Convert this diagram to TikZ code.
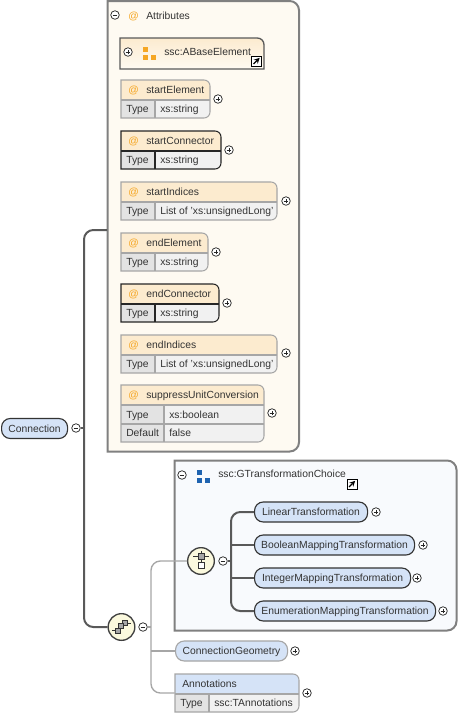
\documentclass[tikz,border=0pt]{standalone}
\usepackage{fontspec}
\setmainfont{Liberation Sans}
\usetikzlibrary{calc,fit}
\definecolor{attrfill}{HTML}{FEFAF2}
\definecolor{attrhead}{HTML}{FCEBCF}
\definecolor{grpfill}{HTML}{F8FAFD}
\definecolor{elemfill}{HTML}{D5E3F7}
\definecolor{rowkey}{HTML}{E3E3E3}
\definecolor{rowval}{HTML}{F1F1F1}
\definecolor{iconor}{HTML}{F5A623}
\definecolor{iconbl}{HTML}{1F63B0}
\definecolor{circfill}{HTML}{FBF9DE}
\definecolor{txt}{HTML}{333333}
% one framed table: name, x1, x2, y top, y bottom, frame colour, head colour
\newcommand{\tblframe}[7]{
  \path[fill=rowval] (#2,#4) [rounded corners=4.5pt] -- (#3,#4) -- (#3,#5) [sharp corners] -- (#2,#5) -- cycle;
  \path[fill=#7] (#2,#4) [rounded corners=4.5pt] -- (#3,#4) [sharp corners] -- (#3,#4+20) -- (#2,#4+20) -- cycle;
  \path (#2,#4) coordinate (#1-nw) (#3,#5) coordinate (#1-se);
  \node[inner sep=0pt, fit=(#1-nw)(#1-se)] (#1) {};
}
% outline of the same table, drawn over its rows
\newcommand{\tbloutline}[5]{
  \draw[#5, line width=.8pt] (#1,#3) [rounded corners=4.5pt] -- (#2,#3) -- (#2,#4) [sharp corners] -- (#1,#4) -- cycle;
  \draw[#5, line width=.8pt] (#1,#3+20) -- (#2,#3+20);
}
% one row: x1, column x, x2, y top, y bottom, frame colour, key, value
\newcommand{\tblrow}[8]{
  \fill[rowkey] (#1,#4) rectangle (#2,#5);
  \draw[#6, line width=.8pt] (#2,#4) -- (#2,#5);
  \node[lbl, anchor=west] at (#1+5,{(#4)/2+(#5)/2}) {#7};
  \node[lbl, anchor=west] at (#2+5,{(#4)/2+(#5)/2}) {#8};
}
% the usual attribute: name, x2, y top, column x, frame colour, title, type
\newcommand{\attrbox}[7]{
  \tblframe{#1}{121}{#2}{#3}{#3+38}{#5}{attrhead}
  \tblrow{121}{#4}{#2}{#3+20}{#3+38}{#5}{Type}{#7}
  \tbloutline{121}{#2}{#3}{#3+38}{#5}
  \node[lbl, anchor=west] at (128,#3+10) {\makebox[13.5pt][l]{\color{iconor}@}#6};
}
\newcommand{\squaresicon}[3]{
  \foreach \dx/\dy in {0/0, 0/8, 8/8} \fill[#3] (#1+\dx,#2+\dy) rectangle ++(5,5);
}
\begin{document}
\begin{tikzpicture}[x=.75pt, y=-.75pt,
    every node/.style={font=\fontsize{7.75}{9.5}\selectfont, text=txt},
    lbl/.style={inner sep=0pt, text height=6.8pt, text depth=1.2pt},
    elem/.style={draw=#1, line width=.85pt, fill=elemfill, rounded corners=6.5pt, minimum height=15pt, inner sep=0pt, text height=6.8pt, text depth=1.2pt, anchor=west},
    elem/.default={black!80},
    btn/.style={circle, draw=black!85, fill=white, line width=.55pt, inner sep=0pt, minimum size=6.4pt},
    plusbtn/.style={btn, path picture={
        \draw[black!85, line width=.55pt] ([xshift=-1.7pt]path picture bounding box.center) -- ([xshift=1.7pt]path picture bounding box.center);
        \draw[black!85, line width=.55pt] ([yshift=-1.7pt]path picture bounding box.center) -- ([yshift=1.7pt]path picture bounding box.center);}},
    minusbtn/.style={btn, path picture={
        \draw[black!85, line width=.55pt] ([xshift=-1.7pt]path picture bounding box.center) -- ([xshift=1.7pt]path picture bounding box.center);}},
    linkbtn/.style={draw=black, fill=white, line width=.7pt, inner sep=0pt, minimum size=7.5pt, path picture={
        \draw[->, >=stealth, line width=.9pt] ([shift={(-2.2pt,-2.2pt)}]path picture bounding box.center) -- ([shift={(2.4pt,2.4pt)}]path picture bounding box.center);}},
    compo/.style={circle, draw=black!75, fill=circfill, line width=1pt, inner sep=0pt, minimum size=20pt},
    conn/.style={draw=black!65, line width=1.5pt, rounded corners=7pt},
    lightconn/.style={draw=black!35, line width=1pt, rounded corners=7pt},
    sqr/.style={draw=black!80, fill=black!35, line width=.5pt},
    sqw/.style={draw=black!80, fill=white, line width=.5pt},
]
\useasboundingbox (0,0) rectangle (474,718);
\fill[white] (0,0) rectangle (474,718);
% === Attributes ===
\draw[black!50, line width=1.5pt, fill=attrfill] (107.5,1) [rounded corners=7pt] -- (299,1) -- (299,451.5) [sharp corners] -- (107.5,451.5) -- cycle;
\node[minusbtn] (attrminus) at (115,15) {};
\node[lbl, anchor=west] (attrtitle) at (128,16) {\makebox[13.5pt][l]{\color{iconor}@}Attributes};
\shade[left color=attrfill, middle color=black!40, right color=attrfill] (112,27.5) rectangle (252,29);
% Base element
\draw[black!65, line width=1pt, top color=attrhead, bottom color=attrfill] (120,38) [rounded corners=5pt] -- (264,38) [sharp corners] -- (264,69) -- (120,69) -- cycle;
\node[plusbtn] (baseplus) at (128,52) {};
\squaresicon{143}{47}{iconor}
\node[lbl, anchor=west] (basetitle) at (164,52) {ssc:ABaseElement};
\node[linkbtn] (baselink) at (256.5,61) {};
% Attribute tables
\attrbox{startelem}{210}{80}{155}{black!35}{startElement}{xs:string}
\node[plusbtn] (startelemplus) at (218,99) {};
\attrbox{startconn}{221}{131}{155}{black!85}{startConnector}{xs:string}
\node[plusbtn] (startconnplus) at (229,150) {};
\attrbox{startind}{277}{182}{155}{black!35}{startIndices}{List of 'xs:unsignedLong'}
\node[plusbtn] (startindplus) at (286,201) {};
\attrbox{endelem}{208}{233}{155}{black!35}{endElement}{xs:string}
\node[plusbtn] (endelemplus) at (216,252) {};
\attrbox{endconn}{219}{284}{155}{black!85}{endConnector}{xs:string}
\node[plusbtn] (endconnplus) at (227,303) {};
\attrbox{endind}{277}{335}{155}{black!35}{endIndices}{List of 'xs:unsignedLong'}
\node[plusbtn] (endindplus) at (286,353) {};
\tblframe{suppress}{121}{264}{385}{442}{black!35}{attrhead}
\tblrow{121}{164}{264}{405}{424}{black!35}{Type}{xs:boolean}
\tblrow{121}{164}{264}{424}{442}{black!35}{Default}{false}
\tbloutline{121}{264}{385}{442}{black!35}
\draw[black!35, line width=.8pt] (121,424) -- (264,424);
\node[lbl, anchor=west] (suppresstitle) at (128,395) {\makebox[13.5pt][l]{\color{iconor}@}suppressUnitConversion};
\node[plusbtn] (suppressplus) at (272,413) {};
% === Group box ===
\draw[black!50, line width=1.5pt, fill=grpfill] (174.5,460.5) [rounded corners=7pt] -- (456.5,460.5) -- (456.5,630.5) [sharp corners] -- (174.5,630.5) -- cycle;
\node[minusbtn] (grpminus) at (182,475) {};
\squaresicon{197}{470}{iconbl}
\node[lbl, anchor=west] (grptitle) at (218,474) {ssc:GTransformationChoice};
\node[linkbtn] (grplink) at (352,484) {};
\shade[left color=grpfill, middle color=black!40, right color=grpfill] (178,491.5) rectangle (385,493);
% === Elements ===
\node[elem, minimum width=49.5pt] (connection) at (1,428.5) {Connection};
\node[minusbtn] (connminus) at (76,428) {};
\node[elem, minimum width=84.75pt] (linear) at (254,512) {LinearTransformation};
\node[plusbtn] (linearplus) at (376,512) {};
\node[elem, minimum width=120pt] (boolmap) at (254,545) {BooleanMappingTransformation};
\node[plusbtn] (boolmapplus) at (423,545) {};
\node[elem, minimum width=117pt] (intmap) at (254,578) {IntegerMappingTransformation};
\node[plusbtn] (intmapplus) at (417,578) {};
\node[elem, minimum width=135.75pt] (enummap) at (254,611) {EnumerationMappingTransformation};
\node[plusbtn] (enummapplus) at (443,611) {};
\node[elem=black!35, minimum width=84pt] (geometry) at (175,651) {ConnectionGeometry};
\node[plusbtn] (geometryplus) at (295,651) {};
\tblframe{annot}{175}{299}{674}{712}{black!35}{elemfill}
\tblrow{175}{209}{299}{694}{712}{black!35}{Type}{ssc:TAnnotations}
\tbloutline{175}{299}{674}{712}{black!35}
\node[lbl, anchor=west] (annottitle) at (182,684) {Annotations};
\node[plusbtn] (annotplus) at (307,693) {};
% === Compositors ===
\node[compo] (seq) at (121.5,627) {};
\node[minusbtn] (seqminus) at (143,627) {};
\node[compo] (choice) at (201,561) {};
\node[minusbtn] (choiceminus) at (223,561) {};
% Sequence icon
\draw[black!80, line width=.6pt] (112,630.5) -- (116,630.5) (126,623) -- (131,623);
\draw[sqr] (122,620) rectangle ++(5,5);
\draw[sqr] (118.5,623.5) rectangle ++(5,5);
\draw[sqr] (115,628) rectangle ++(5.5,5.5);
% Choice icon
\draw[black!80, line width=.6pt] (193,556.5) -- (209,556.5) (201,551) -- (201,562);
\draw[sqr] (198,553.5) rectangle ++(6,6);
\draw[sqw] (198,562) rectangle ++(6,6);
% === Connectors ===
\coordinate (trunk) at (84,428);
\coordinate (attrin) at (107,230);
\coordinate (seqtrunk) at (151,627);
\coordinate (choicetrunk) at (231,561);
\draw[conn] (connminus) -- (trunk);
\draw[conn] (attrin) -- (trunk |- attrin) -- (trunk |- seq) -- (seq);
\draw[lightconn] (seqminus) -- (seqtrunk);
\draw[lightconn] (choice) -- (seqtrunk |- choice) -- (seqtrunk |- annot) -- (annot.west);
\draw[lightconn] (seqtrunk |- geometry) -- (geometry);
\draw[conn] (choiceminus) -- (choicetrunk);
\draw[conn] (linear) -- (choicetrunk |- linear) -- (choicetrunk |- enummap) -- (enummap);
\draw[conn] (choicetrunk |- boolmap) -- (boolmap);
\draw[conn] (choicetrunk |- intmap) -- (intmap);
\end{tikzpicture}
\end{document}
